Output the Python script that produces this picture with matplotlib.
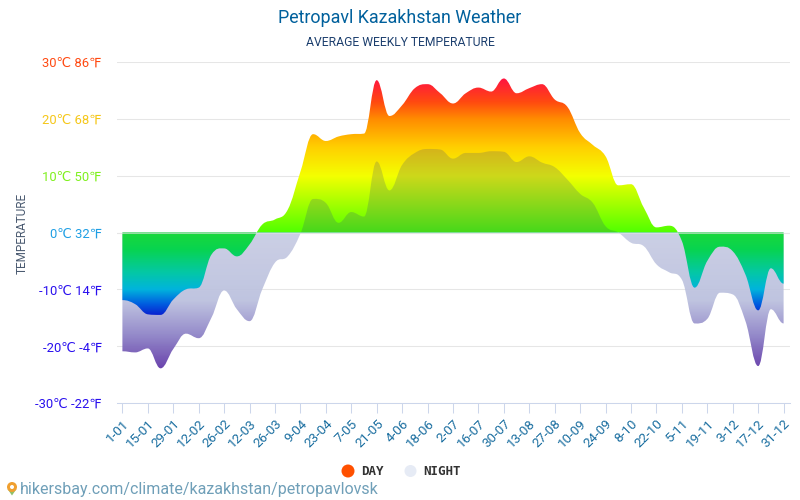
import numpy as np
import matplotlib
matplotlib.use("Agg")
import matplotlib.pyplot as plt
from matplotlib.colors import LinearSegmentedColormap
from matplotlib.patches import PathPatch, Polygon, Circle
from matplotlib.path import Path

plt.rcParams["font.family"] = ["Roboto", "DejaVu Sans"]

week_labels = ["1-01", "15-01", "29-01", "12-02", "26-02", "12-03", "26-03", "9-04", "23-04",
               "7-05", "21-05", "4-06", "18-06", "2-07", "16-07", "30-07", "13-08", "27-08",
               "10-09", "24-09", "8-10", "22-10", "5-11", "19-11", "3-12", "17-12", "31-12"]

day_temp = [-11.9, -12.6, -14.4, -14.5, -11.8, -10.0, -9.7, -3.9, -2.8, -4.2, -2.1, 1.4, 2.3, 4.0,
            10.7, 17.3, 16.1, 16.9, 17.3, 17.4, 26.8, 20.5, 22.4, 25.4, 26.1, 24.5, 22.7, 24.5,
            25.5, 24.8, 27.1, 24.5, 25.4, 26.1, 23.4, 22.1, 17.5, 15.4, 13.4, 8.3, 8.5, 4.4,
            0.9, 1.2, -1.5, -9.7, -5.0, -2.5, -3.3, -7.4, -13.7, -6.3, -9.0]

night_temp = [-20.9, -21.1, -20.4, -23.9, -20.5, -17.8, -18.6, -15.0, -10.2, -13.5, -15.6, -10.0,
              -5.3, -4.2, -0.2, 5.9, 5.2, 1.7, 3.6, 2.8, 12.5, 7.4, 11.9, 14.0, 14.7, 14.6, 13.0,
              14.0, 14.0, 14.3, 14.2, 12.4, 13.4, 12.3, 11.5, 9.3, 6.8, 5.2, 1.1, 0.0, -1.8, -2.4,
              -5.6, -7.0, -8.3, -16.0, -15.2, -10.6, -10.9, -15.6, -23.5, -13.5, -16.0]

y_ticks = [30, 20, 10, 0, -10, -20, -30]
y_labels = ["30℃ 86℉", "20℃ 68℉", "10℃ 50℉", "0℃ 32℉", "-10℃ 14℉", "-20℃ -4℉", "-30℃ -22℉"]
y_colors = ["#ff4a12", "#f5c71a", "#7ff01e", "#1f9fe4", "#2a10ee", "#2a10ee", "#2a10ee"]


def pos(t):
    return (t + 30) / 60


day_stops = [(pos(-30), "#0a10c8"), (pos(-14.5), "#0a22d0"), (pos(-12.5), "#0060e0"),
             (pos(-10), "#00b4dc"), (pos(-7), "#04c8a4"), (pos(-3), "#08d450"),
             (pos(0), "#1ad83a"), (pos(0.01), "#50ff00"), (pos(10), "#f4ff00"),
             (pos(15), "#ffd000"), (pos(20), "#ff8c00"), (pos(23), "#ff4a10"),
             (pos(27), "#ff1540"), (pos(30), "#ff1540")]
# below zero the night area sits under the day area, above zero it tints it
night_under_stops = [(pos(-30), (0.36, 0.20, 0.65, 1.0)), (pos(-24), (0.40, 0.24, 0.67, 0.98)),
                     (pos(-18), (0.56, 0.52, 0.78, 0.95)), (pos(-12), (0.73, 0.75, 0.87, 0.92)),
                     (pos(0), (0.78, 0.80, 0.89, 0.92)), (pos(0.01), (0.78, 0.80, 0.89, 0.0)),
                     (pos(30), (0.78, 0.80, 0.89, 0.0))]
night_over_stops = [(pos(-30), (0.1, 0.15, 0.6, 0.0)), (pos(0), (0.1, 0.15, 0.6, 0.0)),
                    (pos(0.01), (0.1, 0.15, 0.6, 0.18)), (pos(30), (0.1, 0.15, 0.6, 0.18))]


def curve_path(values):
    # closed area between the spline through values and the zero line
    v = np.array(values, dtype=float)
    x = np.arange(len(v), dtype=float)
    slope = np.zeros(len(v))
    for i in range(1, len(v) - 1):
        a = v[i] - v[i - 1]
        b = v[i + 1] - v[i]
        if a * b > 0:
            limit = 3 * min(abs(a), abs(b))
            slope[i] = np.sign(a) * min(abs(a + b) / 2, limit)
    verts = [(x[0], 0), (x[0], v[0])]
    codes = [Path.MOVETO, Path.LINETO]
    for i in range(len(v) - 1):
        verts.append((x[i] + 0.4, v[i] + slope[i] * 0.4))
        verts.append((x[i + 1] - 0.4, v[i + 1] - slope[i + 1] * 0.4))
        verts.append((x[i + 1], v[i + 1]))
        codes += [Path.CURVE4] * 3
    verts += [(x[-1], 0), (x[0], 0)]
    codes += [Path.LINETO, Path.CLOSEPOLY]
    return Path(verts, codes)


def gradient_area(ax, values, stops, zorder, extent):
    cmap = LinearSegmentedColormap.from_list("area", stops, N=1024)
    grad = np.linspace(1, 0, 1024)[:, None]
    img = ax.imshow(grad, cmap=cmap, vmin=0, vmax=1, extent=extent, aspect="auto",
                    interpolation="nearest", zorder=zorder)
    patch = PathPatch(curve_path(values), transform=ax.transData, fc="none", ec="none")
    ax.add_patch(patch)
    img.set_clip_path(patch)


fig = plt.figure(figsize=(8, 5), dpi=100)
ax = fig.add_axes([117 / 800, 1 - 403 / 500, 673 / 800, 341 / 500])

week_px = 660.8 / 52
x_min = -5.4 / week_px
x_max = 52 + 6.4 / week_px
extent = (x_min, x_max, -30, 30)

gradient_area(ax, night_temp, night_under_stops, 2, extent)
gradient_area(ax, day_temp, day_stops, 3, extent)
gradient_area(ax, night_temp, night_over_stops, 4, extent)

ax.set_xlim(x_min, x_max)
ax.set_ylim(-30, 30)
ax.set_yticks(y_ticks)
ax.set_yticklabels(y_labels, fontsize=9.4)
for lab, col in zip(ax.get_yticklabels(), y_colors):
    lab.set_color(col)
ax.tick_params(axis="y", length=0, pad=10.8)
ax.yaxis.grid(True, color="#e6e6e6", lw=0.75, zorder=1)
ax.set_axisbelow(True)
ax.axhline(0, color="#e6e6e6", lw=0.75, alpha=0.6, zorder=5)

ax.set_xticks(np.arange(0, 53, 2))
ax.set_xticklabels(week_labels, fontsize=9.6, color="#1a6ea0", rotation=45, ha="right",
                   rotation_mode="anchor")
ax.tick_params(axis="x", length=7.2, width=0.75, color="#ccd6eb", pad=3)
for side in ["top", "left", "right"]:
    ax.spines[side].set_visible(False)
ax.spines["bottom"].set_color("#ccd6eb")
ax.spines["bottom"].set_linewidth(0.75)

# titles, legend and footer in pixel coordinates
over = fig.add_axes([0, 0, 1, 1], facecolor="none")
over.set_xlim(0, 800)
over.set_ylim(500, 0)
over.axis("off")
over.text(400, 18, "Petropavl Kazakhstan Weather", color="#00609c", fontsize=12.9,
          ha="center", va="center")
over.text(400, 42, "AVERAGE WEEKLY TEMPERATURE", color="#1c3f6e", fontsize=8.7,
          ha="center", va="center")
over.text(22, 233, "TEMPERATURE", color="#4a5a70", fontsize=8.5, rotation=90,
          ha="center", va="center")

over.add_patch(Circle((348, 471), 6.5, fc="#ff5000", ec="none"))
over.text(361, 471.5, "DAY", color="#333333", fontsize=9, family="DejaVu Sans Mono",
          weight="bold", va="center")
over.add_patch(Circle((410.5, 471), 6, fc="#e6ebf5", ec="none"))
over.text(423, 471.5, "NIGHT", color="#333333", fontsize=9, family="DejaVu Sans Mono",
          weight="bold", va="center")

over.add_patch(Polygon([(7.5, 489), (16.5, 489), (12, 495.5)], fc="#8fc06a", ec="none"))
over.add_patch(Circle((12, 487), 5, fc="#f0a030", ec="none"))
over.add_patch(Circle((12, 487), 2, fc="white", ec="none"))
over.text(20, 489.5, "hikersbay.com/climate/kazakhstan/petropavlovsk", color="#6f9fb8",
          fontsize=11.5, va="center")

fig.savefig("out.png", dpi=100)
plt.close()
